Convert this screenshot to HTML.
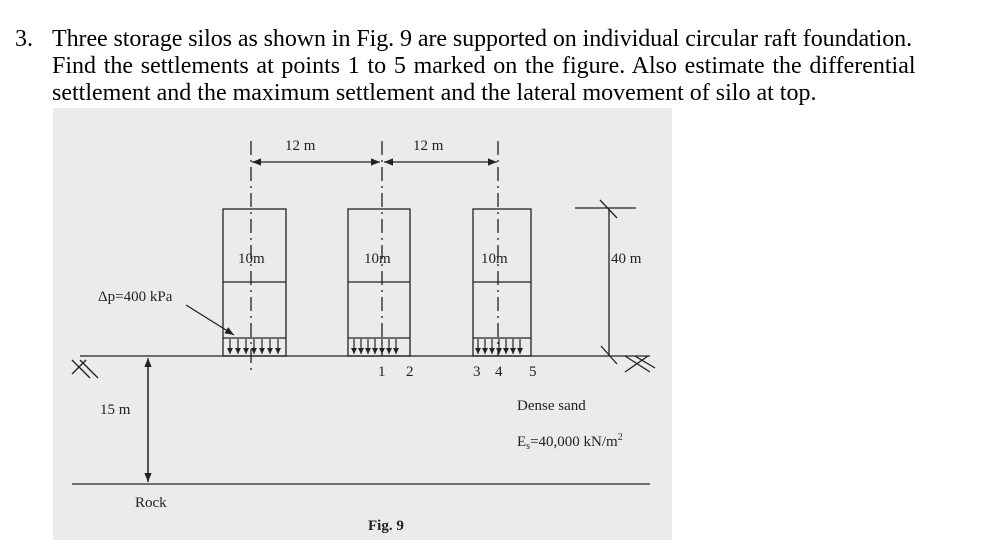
<!DOCTYPE html>
<html><head><style>
body{margin:0;width:985px;height:546px;overflow:hidden;background:#fff;position:relative;font-family:"Liberation Serif",serif}
.t{position:absolute;font-size:24px;color:#000;white-space:nowrap;left:52px}
</style></head><body>
<div class="t" style="left:15px;top:26px">3.</div>
<div class="t" style="top:26px;letter-spacing:-0.07px">Three storage silos as shown in Fig. 9 are supported on individual circular raft foundation.</div>
<div class="t" style="top:53px;word-spacing:1.7px">Find the settlements at points 1 to 5 marked on the figure. Also estimate the differential</div>
<div class="t" style="top:80px">settlement and the maximum settlement and the lateral movement of silo at top.</div>
<div style="position:absolute;left:651px;top:111px;width:5px;height:5px;border-radius:50%;background:#e00"></div>
<svg style="position:absolute;left:0;top:0" width="985" height="546" font-family="Liberation Serif, serif" font-size="15">
<defs><marker id="a" viewBox="0 0 10 10" refX="10" refY="5" markerWidth="7" markerHeight="7" orient="auto-start-reverse"><path d="M0,1 L10,5 L0,9z" fill="#222"/></marker>
<marker id="d" viewBox="0 0 10 10" refX="10" refY="5" markerWidth="5" markerHeight="5" orient="auto"><path d="M0,0 L10,5 L0,10z" fill="#222"/></marker>
<g id="ar"><line x1="0" y1="339" x2="0" y2="354" stroke="#222" stroke-width="1.2" marker-end="url(#d)"/></g></defs>
<rect x="53" y="108" width="619" height="432" fill="#ebebed"/>
<g stroke="#222" stroke-width="1.3" fill="none">
<line x1="80" y1="356" x2="650" y2="356"/>
<line x1="72" y1="484" x2="650" y2="484"/>
<rect x="223" y="209" width="63" height="147"/><line x1="223" y1="282" x2="286" y2="282"/><line x1="223" y1="338" x2="286" y2="338"/>
<rect x="348" y="209" width="62" height="147"/><line x1="348" y1="282" x2="410" y2="282"/><line x1="348" y1="338" x2="410" y2="338"/>
<rect x="473" y="209" width="58" height="147"/><line x1="473" y1="282" x2="531" y2="282"/><line x1="473" y1="338" x2="531" y2="338"/>
<line x1="251" y1="141" x2="251" y2="370" stroke-dasharray="14,5,2,5"/>
<line x1="382" y1="141" x2="382" y2="356" stroke-dasharray="14,5,2,5"/>
<line x1="498" y1="141" x2="498" y2="356" stroke-dasharray="14,5,2,5"/>
<line x1="252" y1="162" x2="380" y2="162" marker-start="url(#a)" marker-end="url(#a)"/>
<line x1="384" y1="162" x2="497" y2="162" marker-start="url(#a)" marker-end="url(#a)"/>
<line x1="148" y1="482" x2="148" y2="358" marker-end="url(#a)"/>
<line x1="148" y1="360" x2="148" y2="482" marker-end="url(#a)"/>
<line x1="575" y1="208" x2="636" y2="208"/><line x1="609" y1="208" x2="609" y2="356"/>
<line x1="600" y1="200" x2="617" y2="218"/><line x1="601" y1="346" x2="617" y2="364"/>
<line x1="186" y1="305" x2="234" y2="335" marker-end="url(#a)"/>
<line x1="72" y1="360" x2="90" y2="378"/><line x1="80" y1="360" x2="98" y2="378"/><line x1="72" y1="374" x2="86" y2="360"/>
<line x1="625" y1="356" x2="650" y2="372"/><line x1="635" y1="356" x2="655" y2="368"/><line x1="625" y1="372" x2="648" y2="356"/>
</g>
<use href="#ar" x="230"/><use href="#ar" x="238"/><use href="#ar" x="246"/><use href="#ar" x="254"/><use href="#ar" x="262"/><use href="#ar" x="270"/><use href="#ar" x="278"/>
<use href="#ar" x="354"/><use href="#ar" x="361"/><use href="#ar" x="368"/><use href="#ar" x="375"/><use href="#ar" x="382"/><use href="#ar" x="389"/><use href="#ar" x="396"/>
<use href="#ar" x="478"/><use href="#ar" x="485"/><use href="#ar" x="492"/><use href="#ar" x="499"/><use href="#ar" x="506"/><use href="#ar" x="513"/><use href="#ar" x="520"/>
<g fill="#222">
<text x="285" y="150">12 m</text><text x="413" y="150">12 m</text>
<text x="238" y="263">10m</text><text x="364" y="263">10m</text><text x="481" y="263">10m</text>
<text x="611" y="263">40 m</text>
<text x="98" y="301">Δp=400 kPa</text>
<text x="378" y="376">1</text><text x="406" y="376">2</text><text x="473" y="376">3</text><text x="495" y="376">4</text><text x="529" y="376">5</text>
<text x="100" y="414">15 m</text>
<text x="517" y="410">Dense sand</text>
<text x="517" y="446">E<tspan font-size="10" dy="3">s</tspan><tspan dy="-3">=40,000 kN/m</tspan><tspan font-size="10" dy="-6">2</tspan></text>
<text x="135" y="507">Rock</text>
<text x="368" y="530" font-weight="bold">Fig. 9</text>
</g>
</svg>
</body></html>
